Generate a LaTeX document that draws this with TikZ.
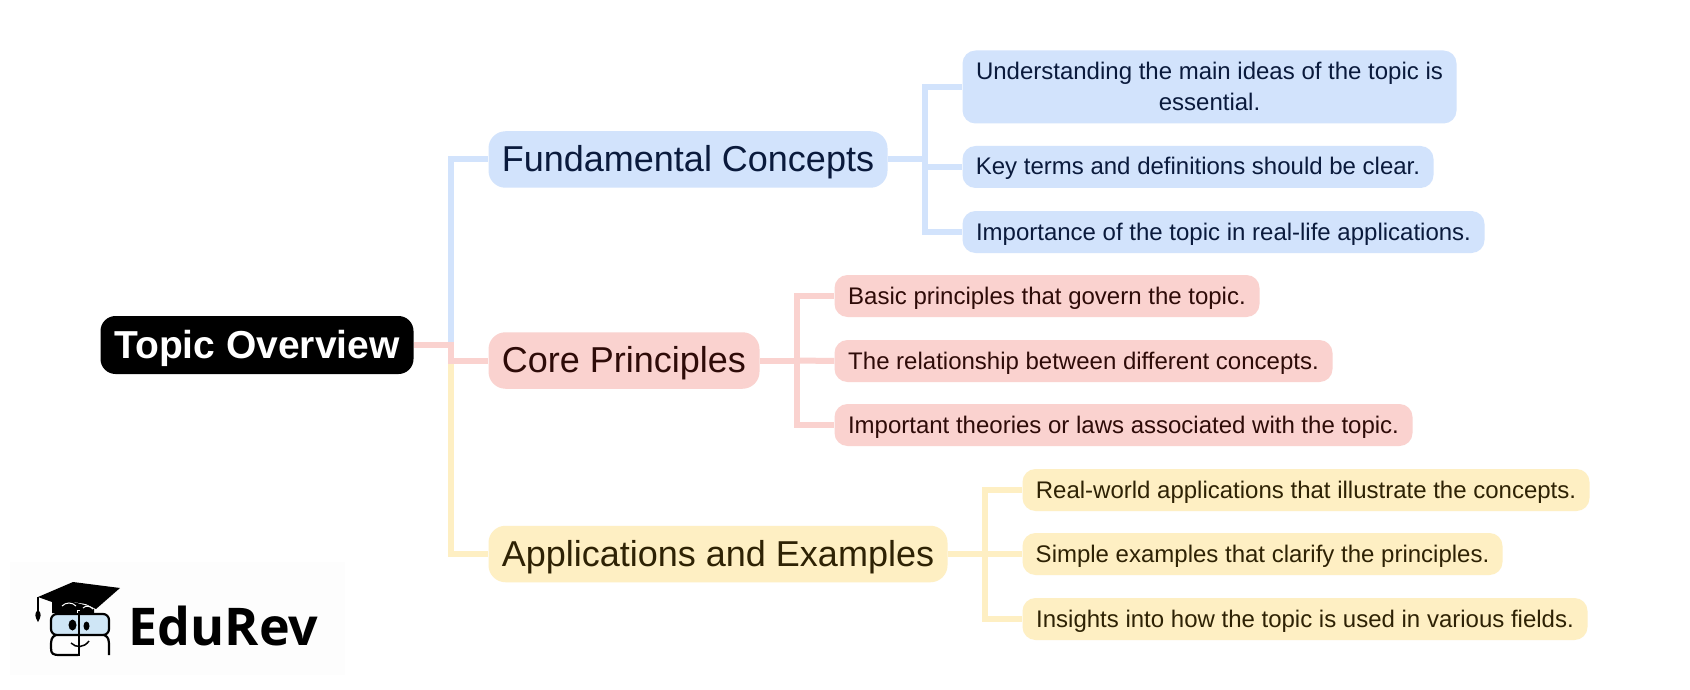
\documentclass[tikz,border=0pt]{standalone}
\usepackage{fontspec}
\setmainfont{Liberation Sans}
\newfontfamily\logofont{Open Sans}
\definecolor{bluebg}{HTML}{D2E3FC}
\definecolor{redbg}{HTML}{FAD2CF}
\definecolor{yelbg}{HTML}{FEEFC3}
\definecolor{bluetx}{HTML}{0A1A3C}
\definecolor{redtx}{HTML}{2E0B08}
\definecolor{yeltx}{HTML}{2E2204}
\definecolor{lens}{HTML}{CFE6F6}
\definecolor{faint}{HTML}{FDFDFD}
\tikzset{
  x=1pt,y=-1pt,
  rootbox/.style={fill=black,text=white,rounded corners=15pt,inner sep=0pt,minimum width=313pt,minimum height=58pt,text height=32pt,text depth=6pt,font=\fontsize{39}{44}\selectfont\bfseries},
  branch/.style={rounded corners=17pt,inner sep=0pt,minimum height=56.5pt,text height=30pt,text depth=6pt,font=\fontsize{36}{42}\selectfont},
  leafbox/.style={rounded corners=13pt,inner sep=0pt,minimum height=42pt,text height=20pt,text depth=4pt,font=\fontsize{24}{31}\selectfont,align=center},
  tb/.style={fill=bluebg,text=bluetx},
  tr/.style={fill=redbg,text=redtx},
  ty/.style={fill=yelbg,text=yeltx},
  link/.style={line width=6pt,line join=miter},
}
\begin{document}
\begin{tikzpicture}
\useasboundingbox (0,0) rectangle (1690,690);
\fill[white] (0,0) rectangle (1690,690);
\fill[faint] (10,562) rectangle (345,675);
% nodes
\node[rootbox] (root) at (257,345) {Topic Overview};
\node[branch,tb,minimum width=399pt] (fc) at (688,159.5) {Fundamental Concepts};
\node[branch,tr,minimum width=271pt] (cp) at (624,360.5) {Core Principles};
\node[branch,ty,minimum width=459pt] (ae) at (718,554) {Applications and Examples};
\node[leafbox,tb,minimum width=494pt,minimum height=73pt,text height=51pt,text depth=4pt] (f1) at (1209.5,87) {Understanding the main ideas of the topic is\\essential.};
\node[leafbox,tb,minimum width=471pt] (f2) at (1198,167) {Key terms and definitions should be clear.};
\node[leafbox,tb,minimum width=522pt] (f3) at (1223.5,232) {Importance of the topic in real-life applications.};
\node[leafbox,tr,minimum width=425pt] (c1) at (1047,296) {Basic principles that govern the topic.};
\node[leafbox,tr,minimum width=498pt] (c2) at (1083.5,361) {The relationship between different concepts.};
\node[leafbox,tr,minimum width=578pt] (c3) at (1123.5,425) {Important theories or laws associated with the topic.};
\node[leafbox,ty,minimum width=567pt] (a1) at (1306,490) {Real-world applications that illustrate the concepts.};
\node[leafbox,ty,minimum width=480pt] (a2) at (1262.5,554) {Simple examples that clarify the principles.};
\node[leafbox,ty,minimum width=565pt] (a3) at (1305,619) {Insights into how the topic is used in various fields.};
% trunks
\coordinate (rt) at (451,345);
\coordinate (ft) at (925,159.5);
\coordinate (ct) at (797,360.5);
\coordinate (at) at (985,554);
\draw[link,bluebg] (rt) |- (fc.west);
\draw[link,yelbg] (rt) |- (ae.west);
\draw[link,redbg] (root.east) -- (rt) |- (cp.west);
\draw[link,bluebg] (fc.east) -- (ft);
\draw[link,bluebg] (ft) |- (f1.west);
\draw[link,bluebg] (ft) |- (f2.west);
\draw[link,bluebg] (ft) |- (f3.west);
\draw[link,redbg] (cp.east) -- (ct);
\draw[link,redbg] (ct) |- (c1.west);
\draw[link,redbg] (ct) -- (c2.west);
\draw[link,redbg] (ct) |- (c3.west);
\draw[link,yelbg] (ae.east) -- (at);
\draw[link,yelbg] (at) |- (a1.west);
\draw[link,yelbg] (at) -- (a2.west);
\draw[link,yelbg] (at) |- (a3.west);
% logo
\fill[black] (38,597) -- (73,582) -- (120,588) -- (96,609) -- (86,604) -- (60,600) -- (52,602) -- cycle;
\fill[black] (52,600) -- (66,600) -- (88,606) -- (94,609) -- (94,613) -- (52,613) -- cycle;
\draw[black,line width=1.2pt] (38,597) -- (38,612);
\fill[black] (38,610) .. controls (34,613) and (35,617) .. (38,622) .. controls (41,617) and (42,613) .. (38,610) -- cycle;
\draw[white,line width=1pt] (62,606) .. controls (66,602) and (72,602) .. (76,606);
\draw[white,line width=1pt] (83,608) .. controls (86,605) and (90,606) .. (93,609);
\draw[black,line width=2.2pt,fill=lens,rounded corners=6pt] (51,614) rectangle (109,635);
\draw[black,line width=2.2pt] (56,635) .. controls (51,637) and (51,640) .. (51,648) .. controls (51,654) and (53,655) .. (60,655) -- (78,655);
\draw[black,line width=2.2pt] (104,635) .. controls (109,637) and (109,640) .. (109,648) -- (109,655);
\draw[white,line width=3pt] (78.5,610) -- (78.5,613);
\draw[black,line width=2pt] (78.5,611) -- (78.5,656);
\fill[black] (72.5,625) ellipse [x radius=4,y radius=5.5];
\fill[black] (86.5,626) ellipse [x radius=3,y radius=4.5];
\draw[black,line width=1.5pt] (71,643) .. controls (76,648) and (84,648) .. (89,641);
\node[anchor=base west,inner sep=0pt,text=black,font=\logofont\bfseries\fontsize{52}{60}\selectfont] (logo) at (128.5,645) {EduRev};
\end{tikzpicture}
\end{document}
